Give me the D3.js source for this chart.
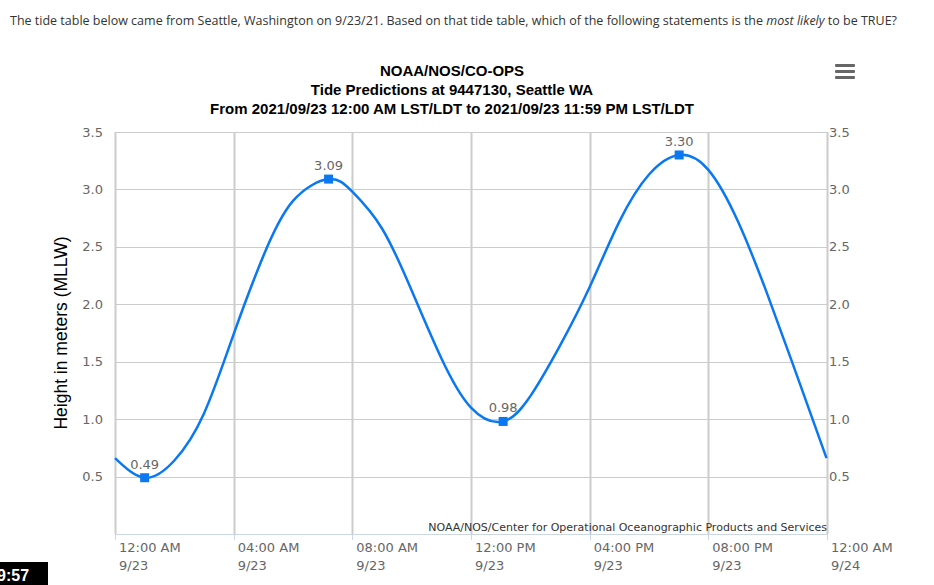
<!DOCTYPE html>
<html>
<head>
<script src="https://d3js.org/d3.v7.min.js"></script>
<style>
  body { margin: 0; background: #fff; }
  text { font-family: 'DejaVu Sans', Verdana, sans-serif; }
</style>
</head>
<body>
<div id="chart"></div>
<script>
var width = 934, height = 585;
var margin = { top: 132, right: 107, bottom: 51, left: 115 };

// predicted heights (m above MLLW)
var times = ["00:00", "01:00", "02:00", "03:00", "04:00", "05:00", "06:00", "07:12",
  "08:00", "09:00", "10:00", "11:00", "12:00", "13:05", "14:00", "15:00", "16:00",
  "17:00", "18:00", "19:01", "20:00", "21:00", "22:00", "23:00", "23:59"];
var heights = [0.66, 0.49, 0.64, 1.05, 1.74, 2.42, 2.90, 3.09,
  2.98, 2.66, 2.12, 1.53, 1.10, 0.98, 1.20, 1.64, 2.15,
  2.72, 3.13, 3.30, 3.17, 2.72, 2.08, 1.37, 0.66];

// high / low tides
var extremeTimes = ["01:00", "07:12", "13:05", "19:01"];
var extremeHeights = [0.49, 3.09, 0.98, 3.30];

var yTicks = [0.5, 1.0, 1.5, 2.0, 2.5, 3.0, 3.5];

var titleLines = ["NOAA/NOS/CO-OPS", "Tide Predictions at 9447130, Seattle WA",
  "From 2021/09/23 12:00 AM LST/LDT to 2021/09/23 11:59 PM LST/LDT"];

var parse = d3.timeParse("%Y-%m-%d %H:%M");
var day = "2021-09-23 ";
var series = times.map(function (t, i) { return { date: parse(day + t), v: heights[i] }; });
var extremes = extremeTimes.map(function (t, i) { return { date: parse(day + t), v: extremeHeights[i] }; });

var svg = d3.select("#chart").append("svg")
  .attr("width", width).attr("height", height);

// question text
var q = svg.append("text")
  .attr("x", 10).attr("y", 25)
  .attr("fill", "#333")
  .style("font-family", "'Open Sans', sans-serif")
  .style("font-size", "13.5px")
  .attr("textLength", 887).attr("lengthAdjust", "spacingAndGlyphs");
q.append("tspan").text("The tide table below came from Seattle, Washington on 9/23/21. Based on that tide table, which of the following statements is the ");
q.append("tspan").style("font-style", "italic").text("most likely");
q.append("tspan").text(" to be TRUE?");

// title
svg.append("g").selectAll("text").data(titleLines).enter().append("text")
  .attr("x", 452).attr("y", function (d, i) { return 76 + i * 19.2; })
  .attr("text-anchor", "middle")
  .style("font-family", "'Liberation Sans', Arial, sans-serif")
  .style("font-weight", "bold").style("font-size", "15px")
  .attr("fill", "#000")
  .text(function (d) { return d; });

// menu icon
svg.append("g").selectAll("rect").data([0, 1, 2]).enter().append("rect")
  .attr("x", 835).attr("y", function (d) { return 64 + d * 6; })
  .attr("width", 20).attr("height", 3).attr("rx", 1)
  .attr("fill", "#666");

var x = d3.scaleTime()
  .domain([parse(day + "00:00"), parse("2021-09-24 00:00")])
  .range([margin.left, width - margin.right]);
var y = d3.scaleLinear()
  .domain([0, 3.5])
  .range([height - margin.bottom, margin.top]);

var xTicks = x.ticks(d3.timeHour.every(4));

// gridlines
svg.append("g").selectAll("line").data(yTicks).enter().append("line")
  .attr("x1", x.range()[0]).attr("x2", x.range()[1])
  .attr("y1", function (d) { return Math.round(y(d)) + 0.5; })
  .attr("y2", function (d) { return Math.round(y(d)) + 0.5; })
  .attr("stroke", "#cccccc");
svg.append("g").selectAll("line").data(xTicks).enter().append("line")
  .attr("x1", function (d) { return Math.round(x(d)) + 0.5; })
  .attr("x2", function (d) { return Math.round(x(d)) + 0.5; })
  .attr("y1", y(3.5)).attr("y2", y(0))
  .attr("stroke", "#cccccc").attr("stroke-width", 2);

// x axis line and ticks
svg.append("line")
  .attr("x1", x.range()[0]).attr("x2", x.range()[1])
  .attr("y1", y(0) + 0.5).attr("y2", y(0) + 0.5)
  .attr("stroke", "#ccd6eb");
svg.append("g").selectAll("line").data(xTicks).enter().append("line")
  .attr("x1", function (d) { return Math.round(x(d)) + 0.5; })
  .attr("x2", function (d) { return Math.round(x(d)) + 0.5; })
  .attr("y1", y(0)).attr("y2", y(0) + 6)
  .attr("stroke", "#ccd6eb");

// y labels, left and right
var fmtY = d3.format(".1f");
svg.append("g").selectAll("text").data(yTicks).enter().append("text")
  .attr("x", 103).attr("y", function (d) { return y(d); })
  .attr("dy", "0.35em").attr("text-anchor", "end")
  .style("font-size", "13px").attr("fill", "#666")
  .text(fmtY);
svg.append("g").selectAll("text").data(yTicks).enter().append("text")
  .attr("x", 829).attr("y", function (d) { return y(d); })
  .attr("dy", "0.35em")
  .style("font-size", "13px").attr("fill", "#666")
  .text(fmtY);

// x labels
var fmtTime = d3.timeFormat("%I:%M %p"), fmtDay = d3.timeFormat("%-m/%-d");
var xl = svg.append("g").selectAll("text").data(xTicks).enter().append("text")
  .attr("x", function (d) { return x(d) + 4; })
  .style("font-size", "13px").attr("fill", "#666");
xl.append("tspan").attr("y", 552).text(fmtTime);
xl.append("tspan").attr("x", function (d) { return x(d) + 4; }).attr("y", 570).text(fmtDay);

// y axis title
svg.append("text")
  .attr("transform", "translate(67," + y(1.75) + ") rotate(-90)")
  .attr("text-anchor", "middle")
  .style("font-family", "'Liberation Sans', Arial, sans-serif")
  .style("font-size", "17.5px").attr("fill", "#000")
  .text("Height in meters (MLLW)");

// credit
svg.append("text")
  .attr("x", 827).attr("y", 531)
  .attr("text-anchor", "end")
  .style("font-size", "11px").attr("fill", "#333")
  .text("NOAA/NOS/Center for Operational Oceanographic Products and Services");

// tide curve
var line = d3.line()
  .x(function (d) { return x(d.date); })
  .y(function (d) { return y(d.v); })
  .curve(d3.curveNatural);
svg.append("path")
  .datum(series)
  .attr("d", line)
  .attr("fill", "none")
  .attr("stroke", "#0a78f0")
  .attr("stroke-width", 2.5);

// markers + labels
svg.append("g").selectAll("rect").data(extremes).enter().append("rect")
  .attr("x", function (d) { return x(d.date) - 4.5; })
  .attr("y", function (d) { return y(d.v) - 4.5; })
  .attr("width", 9).attr("height", 9)
  .attr("fill", "#0a78f0");
svg.append("g").selectAll("text").data(extremes).enter().append("text")
  .attr("x", function (d) { return x(d.date); })
  .attr("y", function (d) { return y(d.v) - 9; })
  .attr("text-anchor", "middle")
  .style("font-size", "13px").attr("fill", "#666")
  .text(function (d) { return d.v.toFixed(2); });

// clock overlay at bottom left
svg.append("rect").attr("x", 0).attr("y", 562).attr("width", 48).attr("height", 23).attr("fill", "#000");
svg.append("text").attr("x", -3).attr("y", 581)
  .style("font-family", "'Liberation Sans', Arial, sans-serif")
  .style("font-weight", "bold").style("font-size", "16px")
  .attr("fill", "#fff").text("9:57");
</script>
</body>
</html>
